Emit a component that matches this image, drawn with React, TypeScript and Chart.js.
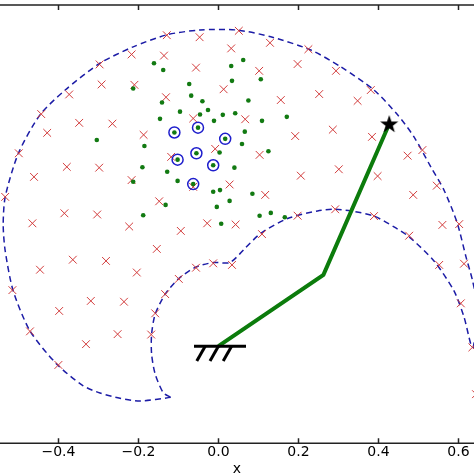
import React, { useEffect, useRef } from 'react';
import { Chart, registerables } from 'chart.js';
Chart.register(...registerables);

const xTicks = [-0.4, -0.2, 0.0, 0.2, 0.4, 0.6];
const xLabel = 'x';

// dashed workspace boundary (closed curve)
const boundaryPts: [number, number][] = [
  [-0.119, -0.128], [-0.196, -0.137], [-0.246, -0.13], [-0.296, -0.117], [-0.338, -0.099],
  [-0.404, -0.045], [-0.471, 0.038], [-0.513, 0.138], [-0.533, 0.238], [-0.538, 0.303],
  [-0.533, 0.373], [-0.5, 0.482], [-0.446, 0.578], [-0.383, 0.64], [-0.296, 0.707],
  [-0.213, 0.748], [-0.129, 0.778], [-0.046, 0.79], [0.046, 0.79], [0.131, 0.773],
  [0.231, 0.74], [0.306, 0.698], [0.389, 0.64], [0.448, 0.578], [0.489, 0.523],
  [0.531, 0.448], [0.564, 0.39], [0.597, 0.308], [0.619, 0.223], [0.635, 0.165],
  [0.649, 0.09], [0.637, -0.003], [0.631, 0.005], [0.614, 0.073], [0.589, 0.138],
  [0.539, 0.213], [0.477, 0.273], [0.439, 0.298], [0.389, 0.325], [0.331, 0.338],
  [0.289, 0.342], [0.248, 0.338], [0.173, 0.319], [0.106, 0.282], [0.067, 0.245],
  [0.029, 0.209], [-0.013, 0.209], [-0.058, 0.197], [-0.1, 0.168], [-0.133, 0.13],
  [-0.158, 0.08], [-0.167, 0.03], [-0.167, -0.02], [-0.158, -0.07], [-0.138, -0.116],
  [-0.119, -0.128],
];

// red x samples
const redPts: [number, number][] = [
  [-0.129, 0.777], [-0.047, 0.772], [0.051, 0.788], [0.032, 0.744], [-0.217, 0.729],
  [-0.136, 0.726], [-0.297, 0.704], [-0.056, 0.696], [-0.292, 0.654], [-0.21, 0.653],
  [-0.373, 0.629], [0.013, 0.642], [-0.131, 0.622], [-0.443, 0.58], [-0.348, 0.558],
  [-0.265, 0.556], [-0.063, 0.569], [-0.428, 0.533], [-0.187, 0.528], [-0.499, 0.482],
  [-0.008, 0.493], [-0.118, 0.473], [-0.461, 0.423], [-0.379, 0.448], [-0.298, 0.446],
  [-0.217, 0.415], [0.028, 0.404], [-0.533, 0.373], [-0.063, 0.398], [-0.148, 0.362],
  [-0.385, 0.332], [-0.303, 0.329], [-0.465, 0.307], [-0.223, 0.299], [-0.028, 0.307],
  [0.043, 0.304], [-0.094, 0.288], [-0.154, 0.243], [-0.446, 0.191], [-0.364, 0.216],
  [-0.281, 0.213], [-0.204, 0.184], [-0.056, 0.196], [-0.013, 0.207], [0.034, 0.203],
  [-0.099, 0.168], [-0.515, 0.14], [-0.133, 0.13], [-0.319, 0.113], [-0.236, 0.111],
  [-0.398, 0.088], [-0.158, 0.082], [-0.471, 0.037], [-0.252, 0.03], [-0.168, 0.029],
  [-0.331, 0.005], [-0.4, -0.047], [0.129, 0.758], [0.225, 0.742], [0.102, 0.688],
  [0.198, 0.705], [0.294, 0.688], [0.381, 0.64], [0.252, 0.63], [0.348, 0.613],
  [0.156, 0.615], [0.067, 0.567], [0.286, 0.541], [0.192, 0.525], [0.384, 0.523],
  [0.51, 0.49], [0.103, 0.478], [0.473, 0.476], [0.301, 0.442], [0.206, 0.426],
  [0.398, 0.425], [0.546, 0.401], [0.117, 0.378], [0.487, 0.378], [0.198, 0.326],
  [0.292, 0.342], [0.389, 0.325], [0.109, 0.28], [0.477, 0.276], [0.56, 0.303],
  [0.602, 0.305], [0.552, 0.203], [0.614, 0.206], [0.606, 0.107], [0.635, -0.003],
  [0.644, -0.12],
];

// green dots
const greenPts: [number, number][] = [
  [-0.304, 0.515], [-0.213, 0.644], [-0.213, 0.411], [-0.161, 0.707], [-0.138, 0.69],
  [-0.141, 0.609], [-0.146, 0.568], [-0.185, 0.5], [-0.19, 0.447], [-0.128, 0.436],
  [-0.102, 0.413], [-0.132, 0.353], [-0.188, 0.327], [-0.096, 0.586], [-0.073, 0.655],
  [-0.068, 0.626], [-0.04, 0.612], [-0.046, 0.579], [-0.026, 0.59], [-0.011, 0.563],
  [0.011, 0.578], [0.042, 0.582], [0.032, 0.7], [0.062, 0.715], [0.034, 0.663],
  [0.106, 0.667], [0.075, 0.614], [0.109, 0.563], [0.171, 0.573], [0.066, 0.536],
  [0.059, 0.505], [0.125, 0.487], [0.003, 0.484], [0.04, 0.446], [-0.013, 0.386],
  [0.004, 0.39], [0.028, 0.363], [-0.004, 0.348], [0.007, 0.306], [0.085, 0.381],
  [0.103, 0.326], [0.131, 0.333], [0.166, 0.322],
  [-0.11, 0.534], [-0.051, 0.546], [0.017, 0.518], [-0.055, 0.482], [-0.102, 0.466],
  [-0.013, 0.452], [-0.063, 0.405],
];

// blue circled points
const circlePts: [number, number][] = [
  [-0.11, 0.534], [-0.051, 0.546], [0.017, 0.518], [-0.055, 0.482], [-0.102, 0.466],
  [-0.013, 0.452], [-0.063, 0.405],
];

// two-link arm: base, elbow, end effector
const armPts: [number, number][] = [[0, 0], [0.2625, 0.178], [0.427, 0.555]];
const starPt: [number, number][] = [[0.427, 0.555]];

// ground symbol
const groundPts: [number, number][] = [[-0.061, 0], [0.069, 0]];
const hatch1: [number, number][] = [[-0.033, 0], [-0.054, -0.037]];
const hatch2: [number, number][] = [[0.0, 0], [-0.021, -0.037]];
const hatch3: [number, number][] = [[0.033, 0], [0.012, -0.037]];

const toXY = (a: [number, number][]) => a.map(([x, y]) => ({ x, y }));

const FONT = "'DejaVu Sans', sans-serif";

export default function App() {
  const ref = useRef<HTMLCanvasElement>(null);
  useEffect(() => {
    const starImg = document.createElement('canvas');
    starImg.width = 22;
    starImg.height = 22;
    const sctx = starImg.getContext('2d')!;
    sctx.fillStyle = '#000';
    sctx.beginPath();
    for (let i = 0; i < 10; i++) {
      const r = i % 2 === 0 ? 9.5 : 3.8;
      const a = -Math.PI / 2 + (i * Math.PI) / 5;
      const px = 11 + r * Math.cos(a);
      const py = 11.5 + r * Math.sin(a);
      if (i === 0) sctx.moveTo(px, py);
      else sctx.lineTo(px, py);
    }
    sctx.closePath();
    sctx.fill();

    const framePlugin = {
      id: 'frame',
      afterDatasetsDraw(chart: any) {
        const { ctx, chartArea: a } = chart;
        const xs = chart.scales.x;
        ctx.save();
        ctx.strokeStyle = '#222';
        ctx.lineWidth = 1.5;
        ctx.beginPath();
        ctx.moveTo(a.left, a.top);
        ctx.lineTo(a.right, a.top);
        ctx.moveTo(a.left, a.bottom);
        ctx.lineTo(a.right, a.bottom);
        for (const t of xTicks) {
          const px = Math.round(xs.getPixelForValue(t)) + 0.5;
          ctx.moveTo(px, a.top);
          ctx.lineTo(px, a.top + 5);
          ctx.moveTo(px, a.bottom);
          ctx.lineTo(px, a.bottom - 5);
        }
        ctx.stroke();
        ctx.restore();
      },
    };

    const lineDs = (data: [number, number][], color: string, width: number, order: number, extra: any = {}) => ({
      type: 'scatter' as const,
      data: toXY(data),
      showLine: true,
      borderColor: color,
      backgroundColor: color,
      borderWidth: width,
      pointRadius: 0,
      fill: false,
      order,
      ...extra,
    });

    const chart = new Chart(ref.current!, {
      type: 'scatter',
      data: {
        datasets: [
          lineDs(boundaryPts, '#1c1ca6', 1.5, 10, { borderDash: [6, 4], tension: 0.25 }),
          {
            data: toXY(redPts),
            pointStyle: 'crossRot',
            pointRadius: 5.5,
            borderWidth: 1,
            borderColor: '#d23c3c',
            backgroundColor: '#d23c3c',
            order: 9,
          },
          {
            data: toXY(greenPts),
            pointStyle: 'circle',
            pointRadius: 2.3,
            borderWidth: 0,
            backgroundColor: '#127a12',
            order: 8,
          },
          {
            data: toXY(circlePts),
            pointStyle: 'circle',
            pointRadius: 5.5,
            borderWidth: 1.5,
            borderColor: '#1e1ecc',
            backgroundColor: 'rgba(0,0,0,0)',
            order: 7,
          },
          lineDs(armPts, '#0c7c0c', 4, 6),
          {
            data: toXY(starPt),
            pointStyle: starImg,
            pointRadius: 10,
            order: 5,
          },
          lineDs(groundPts, '#000', 3, 4),
          lineDs(hatch1, '#000', 3, 4),
          lineDs(hatch2, '#000', 3, 4),
          lineDs(hatch3, '#000', 3, 4),
        ] as any,
      },
      plugins: [framePlugin],
      options: {
        responsive: false,
        animation: false,
        events: [],
        layout: { autoPadding: false, padding: { top: 5, left: 0, right: 0, bottom: 0 } },
        plugins: {
          legend: { display: false },
          tooltip: { enabled: false },
        },
        scales: {
          x: {
            type: 'linear',
            min: -0.546,
            max: 0.639,
            grid: { display: false, drawTicks: false },
            border: { display: false },
            afterBuildTicks: (scale: any) => {
              scale.ticks = xTicks.map((v) => ({ value: v }));
            },
            afterFit: (scale: any) => {
              scale.paddingLeft = 0;
              scale.paddingRight = 0;
            },
            ticks: {
              autoSkip: false,
              maxRotation: 0,
              padding: 1,
              color: '#000',
              font: { family: FONT, size: 14 },
              callback: (v: any) => Number(v).toFixed(1).replace('-', '\u2212'),
            },
            title: {
              display: true,
              text: xLabel,
              color: '#000',
              font: { family: FONT, size: 14, lineHeight: 1 },
              padding: { top: 0, bottom: 0 },
            },
          },
          y: {
            type: 'linear',
            min: -0.2425,
            max: 0.8525,
            display: false,
          },
        },
      } as any,
    });
    return () => chart.destroy();
  }, []);
  return (
    <div style={{ position: 'fixed', left: 0, top: 0, width: 474, height: 476 }}>
      <canvas ref={ref} width={474} height={476} style={{ display: 'block' }} />
    </div>
  );
}
